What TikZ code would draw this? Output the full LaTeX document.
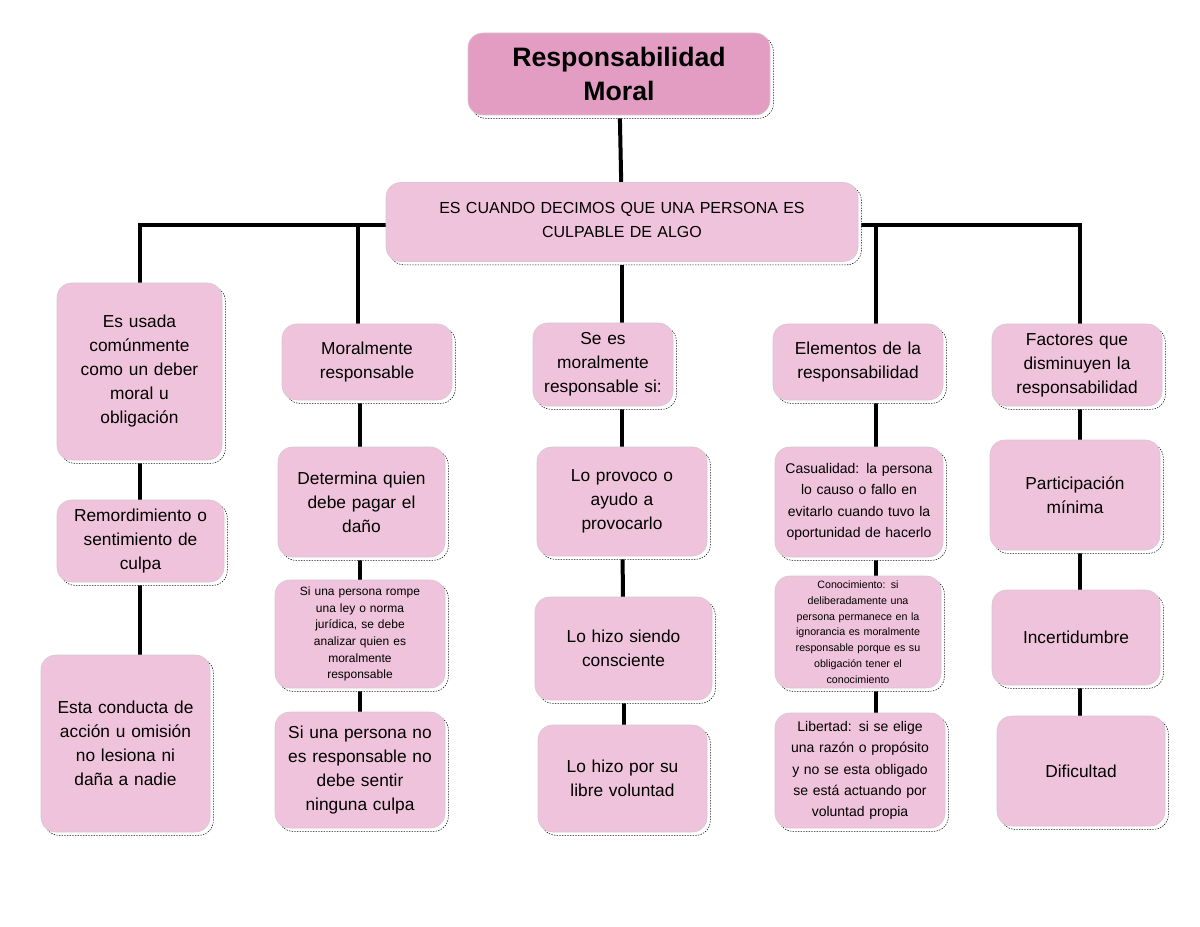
\documentclass[tikz,border=0pt]{standalone}
\usepackage{fontspec}
\setmainfont{Liberation Sans}
\usetikzlibrary{shadows,backgrounds}
\definecolor{pk}{HTML}{F0C3DC}
\definecolor{pkd}{HTML}{E39DC3}
\hyphenpenalty=10000 \exhyphenpenalty=10000
\begin{document}
\begin{tikzpicture}[x=0.75pt,y=-0.75pt,
  box/.style={draw=pk!60!black!40, fill=pk, rounded corners=11pt, align=center,
    inner sep=2pt, font=\fontsize{13}{18}\selectfont,
    copy shadow={shadow xshift=2.5pt, shadow yshift=-2.5pt, draw=black, fill=white, dash pattern=on 1pt off 1pt}},
  sz/.style n args={2}{minimum width=#1*0.75pt, minimum height=#2*0.75pt,
    /utils/exec={\pgfmathsetlengthmacro\tw{#1*0.75pt-10pt}}, text width=\tw},
  ln/.style={line width=3pt, line cap=rect}]
\useasboundingbox (0,0) rectangle (1200,927);
\node[box,fill=pkd,sz={302}{82},font=\bfseries\fontsize{20}{25}\selectfont] (t) at (619,74) {Responsabilidad\\Moral};
\node[box,sz={472}{79},font=\fontsize{12}{18}\selectfont,anchor=center] (es) at (622,222) {\raisebox{14pt}{\parbox{\tw}{\centering ES CUANDO DECIMOS QUE UNA PERSONA ES\\CULPABLE DE ALGO}}};
\node[box,sz={165}{177}] (a1) at (139.5,371.5) {Es usada\\comúnmente\\como un deber\\moral u\\obligación};
\node[box,sz={167}{82}] (a2) at (140.5,541) {Remordimiento o\\sentimiento de\\culpa};
\node[box,sz={169}{177}] (a3) at (125.5,743.5) {Esta conducta de\\acción u omisión\\no lesiona ni\\daña a nadie};
\node[box,sz={170}{76}] (b1) at (367,362) {Moralmente\\responsable};
\node[box,sz={167}{110}] (b2) at (361.5,502) {Determina quien\\debe pagar el\\daño};
\node[box,sz={170}{108},font=\fontsize{9}{12.5}\selectfont] (b3) at (360,634) {Si una persona rompe\\una ley o norma\\jurídica, se debe\\analizar quien es\\moralmente\\responsable};
\node[box,sz={170}{116}] (b4) at (360,770) {Si una persona no\\es responsable no\\debe sentir\\ninguna culpa};
\node[box,sz={140}{83}] (c1) at (603,364.5) {Se es\\moralmente\\responsable si:};
\node[box,sz={170}{109}] (c2) at (622,501.5) {Lo provoco o\\ayudo a\\provocarlo};
\node[box,sz={177}{103}] (c3) at (623.5,648.5) {Lo hizo siendo\\consciente};
\node[box,sz={169}{107}] (c4) at (622.5,778.5) {Lo hizo por su\\libre voluntad};
\node[box,sz={170}{76}] (d1) at (858,362) {Elementos de la\\responsabilidad};
\node[box,sz={168}{110},font=\fontsize{10.5}{16}\selectfont] (d2) at (859,502) {Casualidad: la persona\\lo causo o fallo en\\evitarlo cuando tuvo la\\oportunidad de hacerlo};
\node[box,sz={166}{112},font=\fontsize{8}{11.8}\selectfont] (d3) at (858,632) {Conocimiento: si\\deliberadamente una\\persona permanece en la\\ignorancia es moralmente\\responsable porque es su\\obligación tener el\\conocimiento};
\node[box,sz={170}{115},font=\fontsize{10.5}{16}\selectfont] (d4) at (860,770.5) {Libertad: si se elige\\una razón o propósito\\y no se esta obligado\\se está actuando por\\voluntad propia};
\node[box,sz={170}{82}] (e1) at (1077,365) {Factores que\\disminuyen la\\responsabilidad};
\node[box,sz={170}{110}] (e2) at (1075,495) {Participación\\mínima};
\node[box,sz={168}{95}] (e3) at (1076,637.5) {Incertidumbre};
\node[box,sz={168}{110}] (e4) at (1081,771) {Dificultad};
\coordinate (h1) at (140,225);
\coordinate (h2) at (358,225);
\coordinate (h4) at (876,225);
\coordinate (h5) at (1080,225);
\begin{scope}[on background layer]
\draw[ln] (t) -- (es);
\draw[ln] (h1) -- (h5);
\draw[ln] (h1) -- (h1 |- a1.north);
\draw[ln] (h2) -- (h2 |- b1.north);
\draw[ln] (h4) -- (h4 |- d1.north);
\draw[ln] (h5) -- (h5 |- e1.north);
\draw[ln] (es.south -| c2) -- (c1.north -| c2);
\draw[ln] (h1 |- a1.south) -- (h1 |- a2.north);
\draw[ln] (h1 |- a2.south) -- (h1 |- a3.north);
\draw[ln] (b2.north -| 360,0) -- (b1.south -| 360,0);
\draw[ln] (b2.south -| 360,0) -- (b3.north -| 360,0);
\draw[ln] (b3.south -| 360,0) -- (b4.north -| 360,0);
\draw[ln] (c1.south -| c2) -- (c2);
\draw[ln] (c2) -- (c3);
\draw[ln] (c3) -- (c3.center |- c4.north);
\draw[ln] (h4 |- d1.south) -- (h4 |- d2.north);
\draw[ln] (h4 |- d2.south) -- (h4 |- d3.north);
\draw[ln] (h4 |- d3.south) -- (h4 |- d4.north);
\draw[ln] (h5 |- e1.south) -- (h5 |- e2.north);
\draw[ln] (h5 |- e2.south) -- (h5 |- e3.north);
\draw[ln] (h5 |- e3.south) -- (h5 |- e4.north);
\end{scope}
\end{tikzpicture}
\end{document}
